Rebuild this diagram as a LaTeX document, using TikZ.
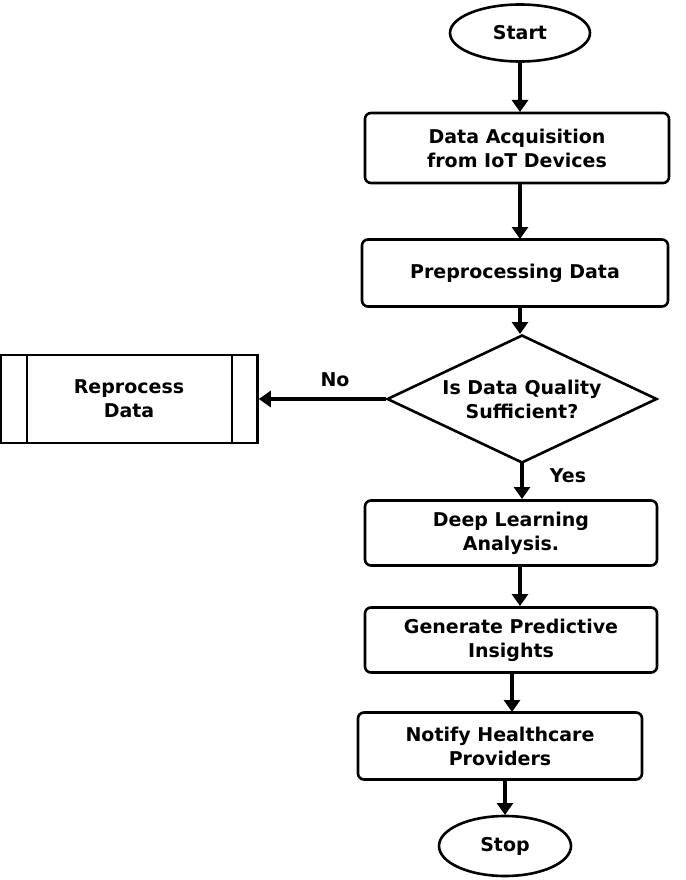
\documentclass[tikz,border=0pt]{standalone}
\usepackage{fontspec}
\setmainfont{DejaVu Sans}
\usetikzlibrary{shapes.geometric,arrows.meta}
\begin{document}
\begin{tikzpicture}[x=1pt,y=-1pt,
 every node/.style={font=\bfseries\fontsize{19}{24}\selectfont,align=center},
 proc/.style={draw,line width=2.6pt,rounded corners=6pt,inner sep=0pt},
 term/.style={draw,ellipse,line width=2.6pt,inner sep=0pt},
 arr/.style={line width=3.5pt,-{Triangle[length=12pt,width=16pt]}}]
\useasboundingbox (0,0) rectangle (685,880);
\node[term,minimum width=140pt,minimum height=57pt] (start) at (520,33) {Start};
\node[proc,minimum width=304pt,minimum height=70pt] (acq) at (517,148) {Data Acquisition\\from IoT Devices};
\node[proc,minimum width=306pt,minimum height=67pt] (pre) at (515,273) {Preprocessing Data};
\node[draw,diamond,line width=2.6pt,aspect=2.1,minimum width=270pt,minimum height=128pt,inner sep=0pt] (dec) at (522,399) {Is Data Quality\\Sufficient?};
\node[draw,line width=2.6pt,minimum width=257pt,minimum height=88pt,inner sep=0pt] (rep) at (129,399) {Reprocess\\Data};
\draw[line width=2.6pt] (27,355) -- (27,443) (232,355) -- (232,443);
\node[proc,minimum width=292pt,minimum height=65pt] (dl) at (511,533) {Deep Learning\\Analysis.};
\node[proc,minimum width=292pt,minimum height=65pt] (gen) at (511,640) {Generate Predictive\\Insights};
\node[proc,minimum width=284pt,minimum height=67pt] (not) at (500,746) {Notify Healthcare\\Providers};
\node[term,minimum width=132pt,minimum height=60pt] (stop) at (505,846) {Stop};
\draw[arr] (start.south -| 520,0) -- (520,112);
\draw[arr] (520,183) -- (520,239);
\draw[arr] (520,307) -- (520,334);
\draw[arr] (dec.west) -- (rep.east);
\node at (335,380) {No};
\draw[arr] (522,463) -- (522,499);
\node at (568,476) {Yes};
\draw[arr] (520,565) -- (520,606);
\draw[arr] (512,672) -- (512,712);
\draw[arr] (505,780) -- (505,815);
\end{tikzpicture}
\end{document}
